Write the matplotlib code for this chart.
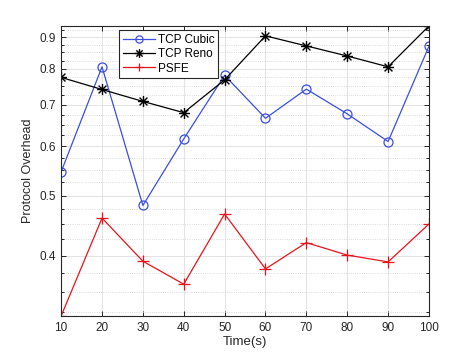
import numpy as np
import matplotlib
matplotlib.use('Agg')
import matplotlib.pyplot as plt
from matplotlib.path import Path
from matplotlib.ticker import FixedLocator, NullFormatter

plt.rcParams['font.family'] = ['Liberation Sans', 'DejaVu Sans']

# ---------------- data ----------------
time_s = [10, 20, 30, 40, 50, 60, 70, 80, 90, 100]
tcp_cubic = [0.546, 0.806, 0.482, 0.617, 0.781, 0.666, 0.742, 0.677, 0.611, 0.870]
tcp_reno = [0.775, 0.741, 0.709, 0.680, 0.768, 0.904, 0.871, 0.839, 0.806, 0.938]
psfe = [0.320, 0.460, 0.392, 0.360, 0.467, 0.381, 0.420, 0.401, 0.391, 0.450]

y_major = [0.4, 0.5, 0.6, 0.7, 0.8, 0.9]
y_minor = [0.325, 0.35, 0.375, 0.425, 0.45, 0.475, 0.525, 0.55, 0.575,
           0.625, 0.65, 0.675, 0.725, 0.75, 0.775, 0.825, 0.85, 0.875, 0.925]

# MATLAB-style asterisk marker ('+' and 'x' combined)
d = 0.7071
asterisk = Path([(-1, 0), (1, 0), (0, -1), (0, 1), (-d, -d), (d, d), (-d, d), (d, -d)],
                [Path.MOVETO, Path.LINETO] * 4)

# ---------------- figure ----------------
fig = plt.figure(figsize=(4.74, 3.55), dpi=100)
ax = fig.add_axes([0.129, 0.110, 0.776, 0.817])

ax.plot(time_s, tcp_cubic, color='#3a4fe0', marker='o', markersize=6.5,
        markerfacecolor='none', markeredgewidth=0.9, linewidth=0.9, label='TCP Cubic')
ax.plot(time_s, tcp_reno, color='black', marker=asterisk, markersize=8,
        markeredgewidth=1.0, linewidth=0.9, label='TCP Reno')
ax.plot(time_s, psfe, color='#e8141c', marker='+', markersize=8,
        markeredgewidth=0.9, linewidth=0.9, label='PSFE')

ax.set_yscale('log')
ax.set_xlim(10, 100)
ax.set_ylim(0.320, 0.938)
ax.set_xticks(time_s)
ax.yaxis.set_major_locator(FixedLocator(y_major))
ax.yaxis.set_minor_locator(FixedLocator(y_minor))
ax.set_yticklabels([f'{v:g}' for v in y_major])
ax.yaxis.set_minor_formatter(NullFormatter())

ax.grid(True, which='major', color='#dedede', linewidth=0.6, linestyle='-')
ax.grid(True, which='minor', axis='y', color='#cfcfcf', linewidth=0.6, linestyle=':')
ax.set_axisbelow(True)

ax.tick_params(which='both', direction='in', top=True, right=True, labelsize=8.5,
               colors='#262626', width=0.7, pad=4)
ax.tick_params(which='major', length=3.5)
ax.tick_params(which='minor', length=2)
for s in ax.spines.values():
    s.set_color('#262626')
    s.set_linewidth(0.8)

ax.set_xlabel('Time(s)', fontsize=9.5, labelpad=2, color='#262626')
ax.set_ylabel('Protocol Overhead', fontsize=9, labelpad=4, color='#262626')

leg = ax.legend(loc='upper left', bbox_to_anchor=(0.158, 0.985), fontsize=8.5,
                frameon=True, fancybox=False, edgecolor='#262626', framealpha=1,
                borderpad=0.3, labelspacing=0.2, handlelength=2.7, handletextpad=0.3,
                borderaxespad=0, markerscale=0.8)
leg.get_frame().set_linewidth(0.8)

fig.savefig('out.png', dpi=100)
